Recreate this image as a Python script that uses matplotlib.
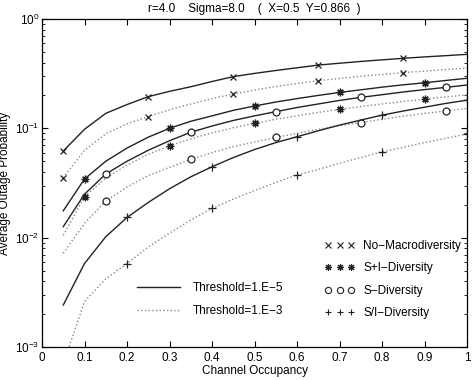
import matplotlib
matplotlib.use("Agg")
import matplotlib.pyplot as plt
from matplotlib.lines import Line2D
import numpy as np

plt.rcParams['font.family'] = ['Liberation Sans', 'DejaVu Sans']
plt.rcParams['mathtext.fontset'] = 'custom'
plt.rcParams['mathtext.rm'] = 'Liberation Sans'

occupancy = [0.05, 0.10, 0.15, 0.20, 0.25, 0.30, 0.35, 0.40, 0.45, 0.50,
             0.55, 0.60, 0.65, 0.70, 0.75, 0.80, 0.85, 0.90, 0.95, 1.00]

# Threshold = 1.E-5 (solid)
nomacro_e5 = [0.062, 0.098, 0.137, 0.165, 0.195, 0.218, 0.240, 0.268, 0.297, 0.318,
              0.338, 0.358, 0.379, 0.394, 0.409, 0.423, 0.437, 0.450, 0.462, 0.475]
spi_e5 = [0.0176, 0.0344, 0.050, 0.066, 0.083, 0.100, 0.116, 0.130, 0.146, 0.160,
          0.174, 0.187, 0.200, 0.213, 0.225, 0.238, 0.250, 0.261, 0.274, 0.287]
s_e5 = [0.0126, 0.025, 0.0382, 0.050, 0.063, 0.077, 0.092, 0.105, 0.118, 0.130,
        0.142, 0.155, 0.167, 0.180, 0.192, 0.203, 0.215, 0.226, 0.237, 0.249]
si_e5 = [0.00242, 0.0058, 0.0102, 0.0153, 0.021, 0.028, 0.036, 0.0445, 0.054, 0.064,
         0.074, 0.0838, 0.095, 0.107, 0.119, 0.132, 0.144, 0.156, 0.169, 0.181]

# Threshold = 1.E-3 (dotted)
nomacro_e3 = [0.0353, 0.063, 0.089, 0.110, 0.128, 0.148, 0.167, 0.187, 0.206, 0.224,
              0.241, 0.257, 0.273, 0.286, 0.299, 0.311, 0.323, 0.334, 0.345, 0.356]
spi_e3 = [0.0105, 0.0237, 0.035, 0.046, 0.058, 0.069, 0.080, 0.091, 0.101, 0.111,
          0.121, 0.130, 0.140, 0.149, 0.158, 0.167, 0.176, 0.185, 0.194, 0.202]
s_e3 = [0.0072, 0.0135, 0.0216, 0.029, 0.037, 0.044, 0.052, 0.060, 0.068, 0.075,
        0.0827, 0.090, 0.098, 0.106, 0.113, 0.121, 0.129, 0.137, 0.144, 0.152]
si_e3 = [0.0007, 0.0026, 0.0042, 0.0058, 0.0082, 0.011, 0.0145, 0.0185, 0.0225, 0.027,
         0.032, 0.0374, 0.042, 0.048, 0.054, 0.061, 0.067, 0.074, 0.081, 0.0887]

series_names = ["No\u2212Macrodiversity", "S+I\u2212Diversity", "S\u2212Diversity", "S/I\u2212Diversity"]
threshold_names = ["Threshold=1.E\u22125", "Threshold=1.E\u22123"]
xticks = [0, 0.1, 0.2, 0.3, 0.4, 0.5, 0.6, 0.7, 0.8, 0.9, 1]
xticklabels = ["0", "0.1", "0.2", "0.3", "0.4", "0.5", "0.6", "0.7", "0.8", "0.9", "1"]

fig = plt.figure(figsize=(4.74, 3.80), dpi=100)
ax = fig.add_axes([42/474, 33/380, 425/474, 328/380])

markers = ['x', (8, 2, 0), 'o', '+']
starts = [0, 1, 2, 3]
solid_sets = [nomacro_e5, spi_e5, s_e5, si_e5]
dot_sets = [nomacro_e3, spi_e3, s_e3, si_e3]
msize = [5, 5.5, 5, 5.5]

for m, st, ys, yd, ms in zip(markers, starts, solid_sets, dot_sets, msize):
    ax.plot(occupancy, ys, '-', color='#222222', lw=1.0, marker=m, ms=ms,
            mfc='white' if m == 'o' else '#222222', mec='#222222', mew=0.9,
            markevery=slice(st, None, 4), clip_on=True)
    ax.plot(occupancy, yd, ':', color='#888888', lw=1.0, marker=m, ms=ms,
            mfc='white' if m == 'o' else '#222222', mec='#222222', mew=0.9,
            markevery=slice(st, None, 4), clip_on=True)

ax.set_yscale('log')
ax.set_xlim(0, 1)
ax.set_ylim(1e-3, 1)
ax.set_xticks(xticks)
ax.set_xticklabels(xticklabels)
ax.tick_params(which='both', direction='in', top=True, right=True, labelsize=8.5)
ax.tick_params(axis='y', which='major', pad=2)
ax.tick_params(which='major', length=4, width=0.8)
ax.tick_params(which='minor', length=2.5, width=0.6)
for sp in ax.spines.values():
    sp.set_linewidth(0.9)

ax.set_xlabel("Channel Occupancy", fontsize=8.5, labelpad=1)
ax.set_ylabel("Average Outage Probability", fontsize=8.5)
ax.yaxis.set_label_coords(-0.073, 0.5)
ax.set_title("r=4.0    Sigma=8.0    (  X=0.5  Y=0.866  )", fontsize=8.5, pad=5)

# marker legend
mk_handles = []
for m, ms in zip(markers, msize):
    mk_handles.append(Line2D([], [], ls='none', marker=m, ms=ms - 0.5, color='#222222',
                             mfc='white' if m == 'o' else '#222222', mew=0.8))
leg1 = ax.legend(mk_handles, series_names, numpoints=3, frameon=False, fontsize=8.5,
                 loc='upper left', bbox_to_anchor=(0.664, 0.326), handlelength=2.6,
                 handletextpad=0.7, labelspacing=0.88, borderpad=0, borderaxespad=0)
ax.add_artist(leg1)

ln_handles = [Line2D([], [], ls='-', color='#222222', lw=1.0),
              Line2D([], [], ls=':', color='#888888', lw=1.0)]
leg2 = ax.legend(ln_handles, threshold_names, frameon=False, fontsize=8.5,
                 loc='upper left', bbox_to_anchor=(0.224, 0.198), handlelength=3.6,
                 handletextpad=1.1, labelspacing=0.9, borderpad=0, borderaxespad=0)

fig.savefig("out.png", dpi=100)
